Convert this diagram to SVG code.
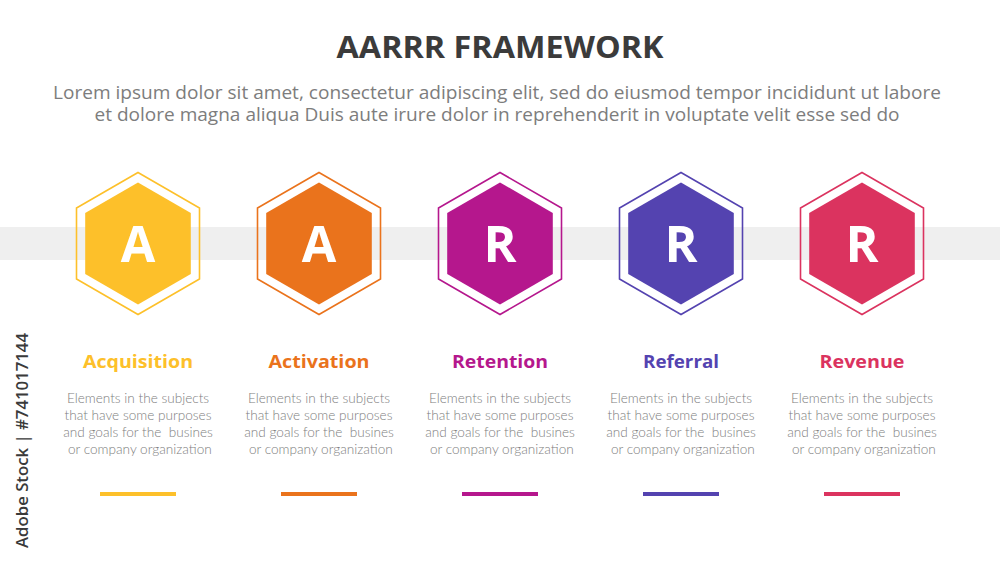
<svg xmlns="http://www.w3.org/2000/svg" xmlns:xlink="http://www.w3.org/1999/xlink" width="1000" height="563" viewBox="0 0 1000 563">
<style>
.title{font-family:"Open Sans","Liberation Sans",sans-serif;font-weight:700;font-size:31px;fill:#3b3b3b;text-anchor:middle}
.sub{font-family:"Open Sans","Liberation Sans",sans-serif;font-size:18px;fill:#7d7d7d;text-anchor:middle}
.letter{font-family:"Open Sans","Liberation Sans",sans-serif;font-weight:700;font-size:50px;fill:#ffffff;text-anchor:middle}
.head{font-family:"Open Sans","Liberation Sans",sans-serif;font-weight:700;font-size:18px;text-anchor:middle}
.desc{font-family:Lato,"Liberation Sans",sans-serif;font-weight:300;font-size:13.6px;fill:#7e7e7e;text-anchor:middle;white-space:pre}
.wm{font-family:"Open Sans","Liberation Sans",sans-serif;font-weight:600;font-size:16px;fill:#3a3a3a}
.outer{fill:none;stroke-width:1.6}
</style>
<defs>
<polygon id="hexOuter" points="0,-71 61.5,-35.5 61.5,35.5 0,71 -61.5,35.5 -61.5,-35.5"/>
<polygon id="hexInner" points="0,-61 52.8,-30.5 52.8,30.5 0,61 -52.8,30.5 -52.8,-30.5"/>
</defs>
<rect width="1000" height="563" fill="#ffffff"/>
<rect x="0" y="227" width="1000" height="33" fill="#efefef"/>
<text class="title" x="500" y="58" textLength="327" lengthAdjust="spacingAndGlyphs">AARRR FRAMEWORK</text>
<text class="sub" x="497" y="99" textLength="888" lengthAdjust="spacingAndGlyphs">Lorem ipsum dolor sit amet, consectetur adipiscing elit, sed do eiusmod tempor incididunt ut labore</text>
<text class="sub" x="497" y="121" textLength="805" lengthAdjust="spacingAndGlyphs">et dolore magna aliqua Duis aute irure dolor in reprehenderit in voluptate velit esse sed do</text>
<text class="wm" transform="translate(28,548) rotate(-90)" textLength="215" lengthAdjust="spacingAndGlyphs">Adobe Stock | #741017144</text>

<g id="node-acquisition">
<use xlink:href="#hexOuter" x="138" y="243.5" class="outer" stroke="#FDC02A"/>
<use xlink:href="#hexInner" x="138" y="243.5" fill="#FDC02A"/>
<text class="letter" x="138" y="262">A</text>
<text class="head" x="138" y="368" fill="#FDC02A" textLength="110" lengthAdjust="spacingAndGlyphs">Acquisition</text>
<text class="desc" x="138" y="402.5">Elements in the subjects</text>
<text class="desc" x="138" y="419.5">that have some purposes</text>
<text class="desc" x="138" y="436.5">and goals for the  busines</text>
<text class="desc" x="138" y="453.5"> or company organization</text>
<rect x="100" y="492" width="76" height="4" fill="#FDC02A"/>
</g>

<g id="node-activation">
<use xlink:href="#hexOuter" x="319" y="243.5" class="outer" stroke="#EA731C"/>
<use xlink:href="#hexInner" x="319" y="243.5" fill="#EA731C"/>
<text class="letter" x="319" y="262">A</text>
<text class="head" x="319" y="368" fill="#EA731C" textLength="101" lengthAdjust="spacingAndGlyphs">Activation</text>
<text class="desc" x="319" y="402.5">Elements in the subjects</text>
<text class="desc" x="319" y="419.5">that have some purposes</text>
<text class="desc" x="319" y="436.5">and goals for the  busines</text>
<text class="desc" x="319" y="453.5"> or company organization</text>
<rect x="281" y="492" width="76" height="4" fill="#EA731C"/>
</g>

<g id="node-retention">
<use xlink:href="#hexOuter" x="500" y="243.5" class="outer" stroke="#B5178D"/>
<use xlink:href="#hexInner" x="500" y="243.5" fill="#B5178D"/>
<text class="letter" x="500" y="262">R</text>
<text class="head" x="500" y="368" fill="#B5178D" textLength="96" lengthAdjust="spacingAndGlyphs">Retention</text>
<text class="desc" x="500" y="402.5">Elements in the subjects</text>
<text class="desc" x="500" y="419.5">that have some purposes</text>
<text class="desc" x="500" y="436.5">and goals for the  busines</text>
<text class="desc" x="500" y="453.5"> or company organization</text>
<rect x="462" y="492" width="76" height="4" fill="#B5178D"/>
</g>

<g id="node-referral">
<use xlink:href="#hexOuter" x="681" y="243.5" class="outer" stroke="#5443B0"/>
<use xlink:href="#hexInner" x="681" y="243.5" fill="#5443B0"/>
<text class="letter" x="681" y="262">R</text>
<text class="head" x="681" y="368" fill="#5443B0" textLength="76" lengthAdjust="spacingAndGlyphs">Referral</text>
<text class="desc" x="681" y="402.5">Elements in the subjects</text>
<text class="desc" x="681" y="419.5">that have some purposes</text>
<text class="desc" x="681" y="436.5">and goals for the  busines</text>
<text class="desc" x="681" y="453.5"> or company organization</text>
<rect x="643" y="492" width="76" height="4" fill="#5443B0"/>
</g>

<g id="node-revenue">
<use xlink:href="#hexOuter" x="862" y="243.5" class="outer" stroke="#DB335F"/>
<use xlink:href="#hexInner" x="862" y="243.5" fill="#DB335F"/>
<text class="letter" x="862" y="262">R</text>
<text class="head" x="862" y="368" fill="#DB335F" textLength="85" lengthAdjust="spacingAndGlyphs">Revenue</text>
<text class="desc" x="862" y="402.5">Elements in the subjects</text>
<text class="desc" x="862" y="419.5">that have some purposes</text>
<text class="desc" x="862" y="436.5">and goals for the  busines</text>
<text class="desc" x="862" y="453.5"> or company organization</text>
<rect x="824" y="492" width="76" height="4" fill="#DB335F"/>
</g>

<g id="connectors"></g>
</svg>
